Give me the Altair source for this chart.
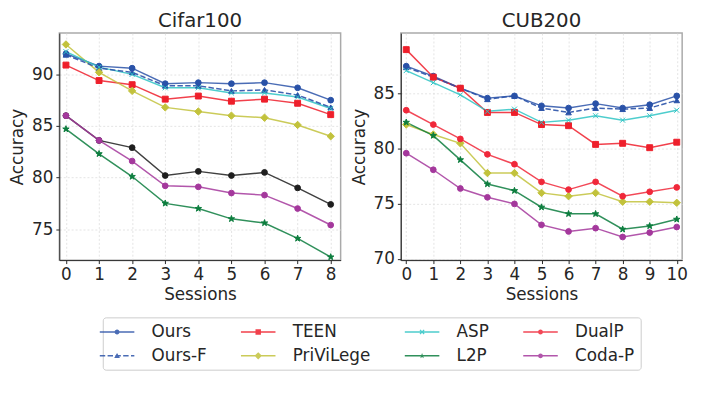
import math
import altair as alt
import pandas as pd

# ---------------- data ----------------
sessions_cifar = list(range(9))
sessions_cub = list(range(11))

series_names = ["Ours", "Ours-F", "TEEN", "PriViLege", "ASP", "L2P", "DualP", "Coda-P"]

cifar_ours = [92.0, 90.8, 90.6, 89.1, 89.2, 89.1, 89.2, 88.7, 87.5]
cifar_ours_f = [91.9, 90.6, 90.2, 88.9, 88.9, 88.4, 88.5, 88.0, 86.8]
cifar_teen = [90.9, 89.4, 89.0, 87.6, 87.9, 87.4, 87.6, 87.2, 86.1]
cifar_privilege = [92.9, 90.2, 88.4, 86.8, 86.4, 86.0, 85.8, 85.1, 84.0]
cifar_asp = [92.2, 90.7, 90.0, 88.7, 88.7, 88.2, 88.2, 87.8, 86.7]
cifar_l2p = [84.7, 82.3, 80.1, 77.5, 77.0, 76.0, 75.6, 74.1, 72.3]
cifar_dualp = [86.0, 83.6, 82.9, 80.2, 80.6, 80.2, 80.5, 79.0, 77.4]
cifar_codap = [86.0, 83.6, 81.6, 79.2, 79.1, 78.5, 78.3, 77.0, 75.4]

cub_ours = [87.5, 86.6, 85.5, 84.6, 84.8, 83.9, 83.7, 84.1, 83.7, 84.0, 84.8]
cub_ours_f = [87.4, 86.5, 85.5, 84.5, 84.8, 83.7, 83.3, 83.7, 83.6, 83.7, 84.4]
cub_teen = [89.0, 86.5, 85.5, 83.3, 83.3, 82.2, 82.1, 80.4, 80.5, 80.1, 80.6]
cub_privilege = [82.2, 81.3, 80.5, 77.8, 77.8, 76.0, 75.7, 76.0, 75.2, 75.2, 75.1]
cub_asp = [87.1, 86.0, 84.9, 83.4, 83.6, 82.4, 82.6, 83.0, 82.6, 83.0, 83.5]
cub_l2p = [82.4, 81.2, 79.0, 76.8, 76.2, 74.7, 74.1, 74.1, 72.7, 73.0, 73.6]
cub_dualp = [83.5, 82.2, 80.9, 79.5, 78.6, 77.0, 76.3, 77.0, 75.7, 76.1, 76.5]
cub_codap = [79.6, 78.1, 76.4, 75.6, 75.0, 73.1, 72.5, 72.8, 72.0, 72.4, 72.9]

cifar_ticks_y = [75, 80, 85, 90]
cub_ticks_y = [70, 75, 80, 85]

# ---------------- styles ----------------
colors = {
    "Ours": "#2a52a8", "Ours-F": "#2a52a8", "TEEN": "#ee1f2b",
    "PriViLege": "#c2c23c", "ASP": "#2ec4c4", "L2P": "#0c7d3e",
    "DualP": "#f0283a", "Coda-P": "#a4389c",
}
cifar_dualp_color = "#1e1e1e"


def star_pts(scale):
    pts = []
    for k in range(10):
        r = 1.0 if k % 2 == 0 else 0.4
        a = math.radians(-90 + 36 * k)
        pts.append((scale * r * math.cos(a), scale * r * math.sin(a)))
    return pts


def poly(pts):
    return "M" + "L".join(f"{x:.3f},{y:.3f}" for x, y in pts) + "Z"


def x_polys(a, t):
    s = 1 / math.sqrt(2)
    out = []
    for d in [(s, s), (s, -s)]:
        p = (-d[1], d[0])
        c = [(-a * d[0] - t * p[0], -a * d[1] - t * p[1]),
             (a * d[0] - t * p[0], a * d[1] - t * p[1]),
             (a * d[0] + t * p[0], a * d[1] + t * p[1]),
             (-a * d[0] + t * p[0], -a * d[1] + t * p[1])]
        out.append(poly(c))
    return "".join(out)


def circle(r):
    return f"M{-r},0A{r},{r},0,1,1,{r},0A{r},{r},0,1,1,{-r},0Z"


plot_shapes = {
    "Ours": "circle", "Ours-F": "triangle-up", "TEEN": "square",
    "PriViLege": "diamond", "ASP": "M-1,-1L1,1M-1,1L1,-1",
    "L2P": poly(star_pts(1.0)), "DualP": "circle", "Coda-P": "circle",
}
plot_sizes = {
    "Ours": 34, "Ours-F": 32, "TEEN": 36, "PriViLege": 56, "ASP": 26,
    "L2P": 46, "DualP": 34, "Coda-P": 34,
}

# legend symbols: line segment + marker, unit = 5 px (symbolSize 100)
BAR_HALF = 3.5
BAR_T = 0.15


def bar(x0, x1):
    return poly([(x0, -BAR_T), (x1, -BAR_T), (x1, BAR_T), (x0, BAR_T)])


def solid_bar():
    return bar(-BAR_HALF, BAR_HALF)


def dashed_bar():
    segs = []
    x = -BAR_HALF
    dash, gap = 1.1, 0.48
    while x < BAR_HALF:
        x1 = min(x + dash, BAR_HALF)
        segs.append(bar(x, x1))
        x = x1 + gap
    return "".join(segs)


legend_markers = {
    "Ours": circle(0.5),
    "Ours-F": poly([(0, -0.6), (0.58, 0.45), (-0.58, 0.45)]),
    "TEEN": poly([(-0.55, -0.55), (0.55, -0.55), (0.55, 0.55), (-0.55, 0.55)]),
    "PriViLege": poly([(0, -0.75), (0.75, 0), (0, 0.75), (-0.75, 0)]),
    "ASP": x_polys(0.6, 0.12),
    "L2P": poly(star_pts(0.6)),
    "DualP": circle(0.5),
    "Coda-P": circle(0.5),
}
legend_paths = [
    (dashed_bar() if s == "Ours-F" else solid_bar()) + legend_markers[s]
    for s in series_names
]

# ---------------- table ----------------
cifar_vals = [cifar_ours, cifar_ours_f, cifar_teen, cifar_privilege,
              cifar_asp, cifar_l2p, cifar_dualp, cifar_codap]
cub_vals = [cub_ours, cub_ours_f, cub_teen, cub_privilege,
            cub_asp, cub_l2p, cub_dualp, cub_codap]

rows = []
for ds, sess, vals in [("Cifar100", sessions_cifar, cifar_vals),
                       ("CUB200", sessions_cub, cub_vals)]:
    for name, series in zip(series_names, vals):
        col = colors[name]
        if ds == "Cifar100" and name == "DualP":
            col = cifar_dualp_color
        for s, v in zip(sess, series):
            rows.append({"dataset": ds, "session": s, "acc": v, "series": name,
                         "color": col, "shape": plot_shapes[name],
                         "msize": plot_sizes[name]})
df = pd.DataFrame(rows)

FONT = "DejaVu Sans"
TXT = "#262626"


def panel(ds, sessions, xdom, ydom, yticks):
    base = alt.Chart(df).transform_filter(alt.datum.dataset == ds)
    x = alt.X("session:Q", scale=alt.Scale(domain=xdom, nice=False, zero=False),
              axis=alt.Axis(values=sessions, format="d", title="Sessions"))
    y = alt.Y("acc:Q", scale=alt.Scale(domain=ydom, nice=False, zero=False),
              axis=alt.Axis(values=yticks, format="d", title="Accuracy"))
    solid = base.transform_filter(alt.datum.series != "Ours-F").mark_line(
        strokeWidth=1.5, opacity=0.85).encode(
        x=x, y=y, detail="series:N", color=alt.Color("color:N", scale=None))
    dashed = base.transform_filter(alt.datum.series == "Ours-F").mark_line(
        strokeWidth=1.5, opacity=0.9, strokeDash=[5.5, 2.4]).encode(
        x=x, y=y, detail="series:N", color=alt.Color("color:N", scale=None))
    pts = base.mark_point(filled=True, opacity=1, strokeWidth=1).encode(
        x=x, y=y,
        fill=alt.Fill("color:N", scale=None),
        stroke=alt.Stroke("color:N", scale=None),
        shape=alt.Shape("shape:N", scale=None),
        size=alt.Size("msize:Q", scale=None),
    )
    return alt.layer(solid, dashed, pts).properties(
        width=285, height=230,
        title=alt.TitleParams(ds, fontSize=20, font=FONT, fontWeight="normal",
                              color=TXT, offset=2),
    )


left = panel("Cifar100", sessions_cifar, [-0.2, 8.3], [72.0, 94.0], cifar_ticks_y)
right = panel("CUB200", sessions_cub, [-0.2, 10.2], [69.9, 90.5], cub_ticks_y)

leg = alt.Legend(
    title=None, orient="none", legendX=44, legendY=288, columns=4,
    columnPadding=34, rowPadding=6.5, symbolSize=100, symbolStrokeWidth=0,
    symbolOpacity=1, labelFontSize=17, labelFont=FONT, labelColor=TXT,
    labelOffset=26.5, strokeColor="#cccccc", cornerRadius=3, padding=6,
    fillColor="white",
)
legend_chart = alt.Chart(df).transform_filter("false").mark_point(
    filled=True, opacity=1).encode(
    color=alt.Color("series:N", scale=alt.Scale(
        domain=series_names, range=[colors[s] for s in series_names]), legend=leg),
    shape=alt.Shape("series:N", scale=alt.Scale(
        domain=series_names, range=legend_paths), legend=leg),
).properties(width=1, height=1, view=alt.ViewBackground(strokeOpacity=0))

chart = alt.vconcat(
    alt.hconcat(left, right, spacing=8),
    legend_chart, spacing=0,
).properties(
    padding={"left": 0, "top": 0, "right": 5, "bottom": 5}
).configure_axis(
    labelFont=FONT, labelFontSize=17, labelColor=TXT,
    titleFont=FONT, titleFontSize=17, titleFontWeight="normal", titleColor=TXT,
    tickSize=3.5, tickColor=TXT, tickWidth=1, domainColor=TXT, domainWidth=1,
    grid=True, gridColor="#dddddd", gridDash=[2, 2], gridWidth=0.8,
    labelPadding=3,
).configure_axisX(titlePadding=4).configure_axisY(titlePadding=5).configure_view(
    stroke="#aaaaaa", strokeWidth=1.5,
)

chart.save("out.html", embed_options={"renderer": "svg", "actions": False})
